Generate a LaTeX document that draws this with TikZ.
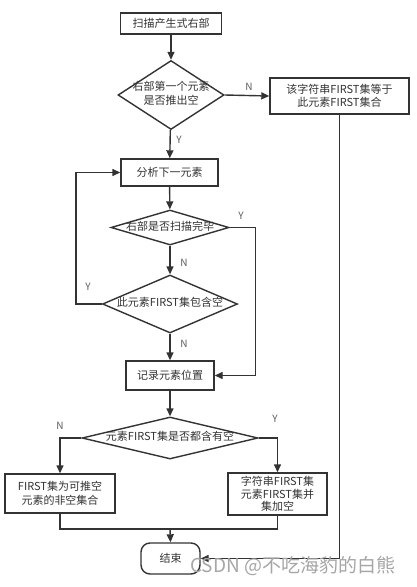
\documentclass[tikz,border=0pt]{standalone}
\usepackage{fontspec}
\setmainfont{Noto Sans CJK SC}
\usetikzlibrary{shapes.geometric,arrows.meta}
\definecolor{ln}{HTML}{333333}
\tikzset{
  every node/.style={font=\fontsize{11}{13.5}\selectfont, text=ln},
  box/.style={draw=ln, line width=1.4pt, rectangle, inner sep=0pt, align=center},
  dia/.style={draw=ln, line width=1.4pt, diamond, inner sep=0pt},
  conn/.style={draw=ln, line width=1.4pt},
  arr/.style={conn, -{Triangle[length=8pt,width=7pt]}},
  lab/.style={font=\fontsize{10}{12}\selectfont, text=ln!80}
}
\newcommand{\dtext}[1]{\makebox[0pt]{\begin{tabular}{@{}c@{}}#1\end{tabular}}}
\begin{document}
\begin{tikzpicture}[x=1pt,y=-1pt]
\useasboundingbox (0,0) rectangle (416,587);
\fill[white] (0,0) rectangle (416,587);

\node[box, minimum width=101pt, minimum height=21pt] (n1) at (171,23.5) {扫描产生式右部};
\node[dia, minimum width=106pt, minimum height=69pt] (d1) at (171,95) {\dtext{右部第一个元素\\是否推出空}};
\node[box, minimum width=139pt, minimum height=36pt] (r1) at (339.5,96) {该字符串FIRST集等于\\此元素FIRST集合};
\node[box, minimum width=97pt, minimum height=27pt] (n2) at (169.5,172.5) {分析下一元素};
\node[dia, minimum width=118pt, minimum height=35pt] (d2) at (170,227.5) {\dtext{右部是否扫描完毕}};
\node[dia, minimum width=135pt, minimum height=58pt] (d3) at (170,304) {\dtext{此元素FIRST集包含空}};
\node[box, minimum width=88pt, minimum height=29pt] (n3) at (170,375.5) {记录元素位置};
\node[dia, minimum width=176pt, minimum height=42pt] (d4) at (170,438) {\dtext{元素FIRST集是否都含有空}};
\node[box, minimum width=110pt, minimum height=39pt] (l1) at (60,493.5) {FIRST集为可推空\\元素的非空集合};
\node[box, minimum width=99pt, minimum height=42pt, font=\fontsize{11}{12.5}\selectfont] (r2) at (277.5,494) {字符串FIRST集\\元素FIRST集并\\集加空};
\node[box, rounded corners=9pt, minimum width=59pt, minimum height=31pt] (e) at (170.5,558.5) {结束};
\coordinate (m) at (170,529);

\draw[arr] (n1) -- (d1);
\draw[arr] (d1.east) -- (r1.west);
\draw[arr] (d1) -- (n2);
\draw[arr] (n2) -- (d2);
\draw[arr] (d2) -- (d3);
\draw[arr] (d3) -- (n3);
\draw[arr] (d3.west) -- ++(-26,0) |- (n2.west);
\draw[arr] (d2.east) -- ++(26,0) |- (n3.east);
\draw[arr] (n3) -- (d4);
\draw[arr] (d4.west) -| (l1.north);
\draw[arr] (d4.east) -| (r2.north);
\draw[conn] (l1.south) |- (m) -| (r2.south);
\draw[arr] (m) -- (e.north);
\draw[arr] (r1.south) |- (e.east);

\node[lab] (tN1) at (249,87) {N};
\node[lab] (tY1) at (179,140) {Y};
\node[lab] (tY2) at (241,216) {Y};
\node[lab] (tN2) at (184,263) {N};
\node[lab] (tY3) at (88,287) {Y};
\node[lab] (tN3) at (184,344) {N};
\node[lab] (tN4) at (60,426) {N};
\node[lab] (tY4) at (275,419) {Y};

\node[font=\fontsize{19}{22}\selectfont, text=black!35, anchor=west, inner sep=0pt] (wm) at (190,566) {CSDN @不吃海豹的白熊};
\end{tikzpicture}
\end{document}
